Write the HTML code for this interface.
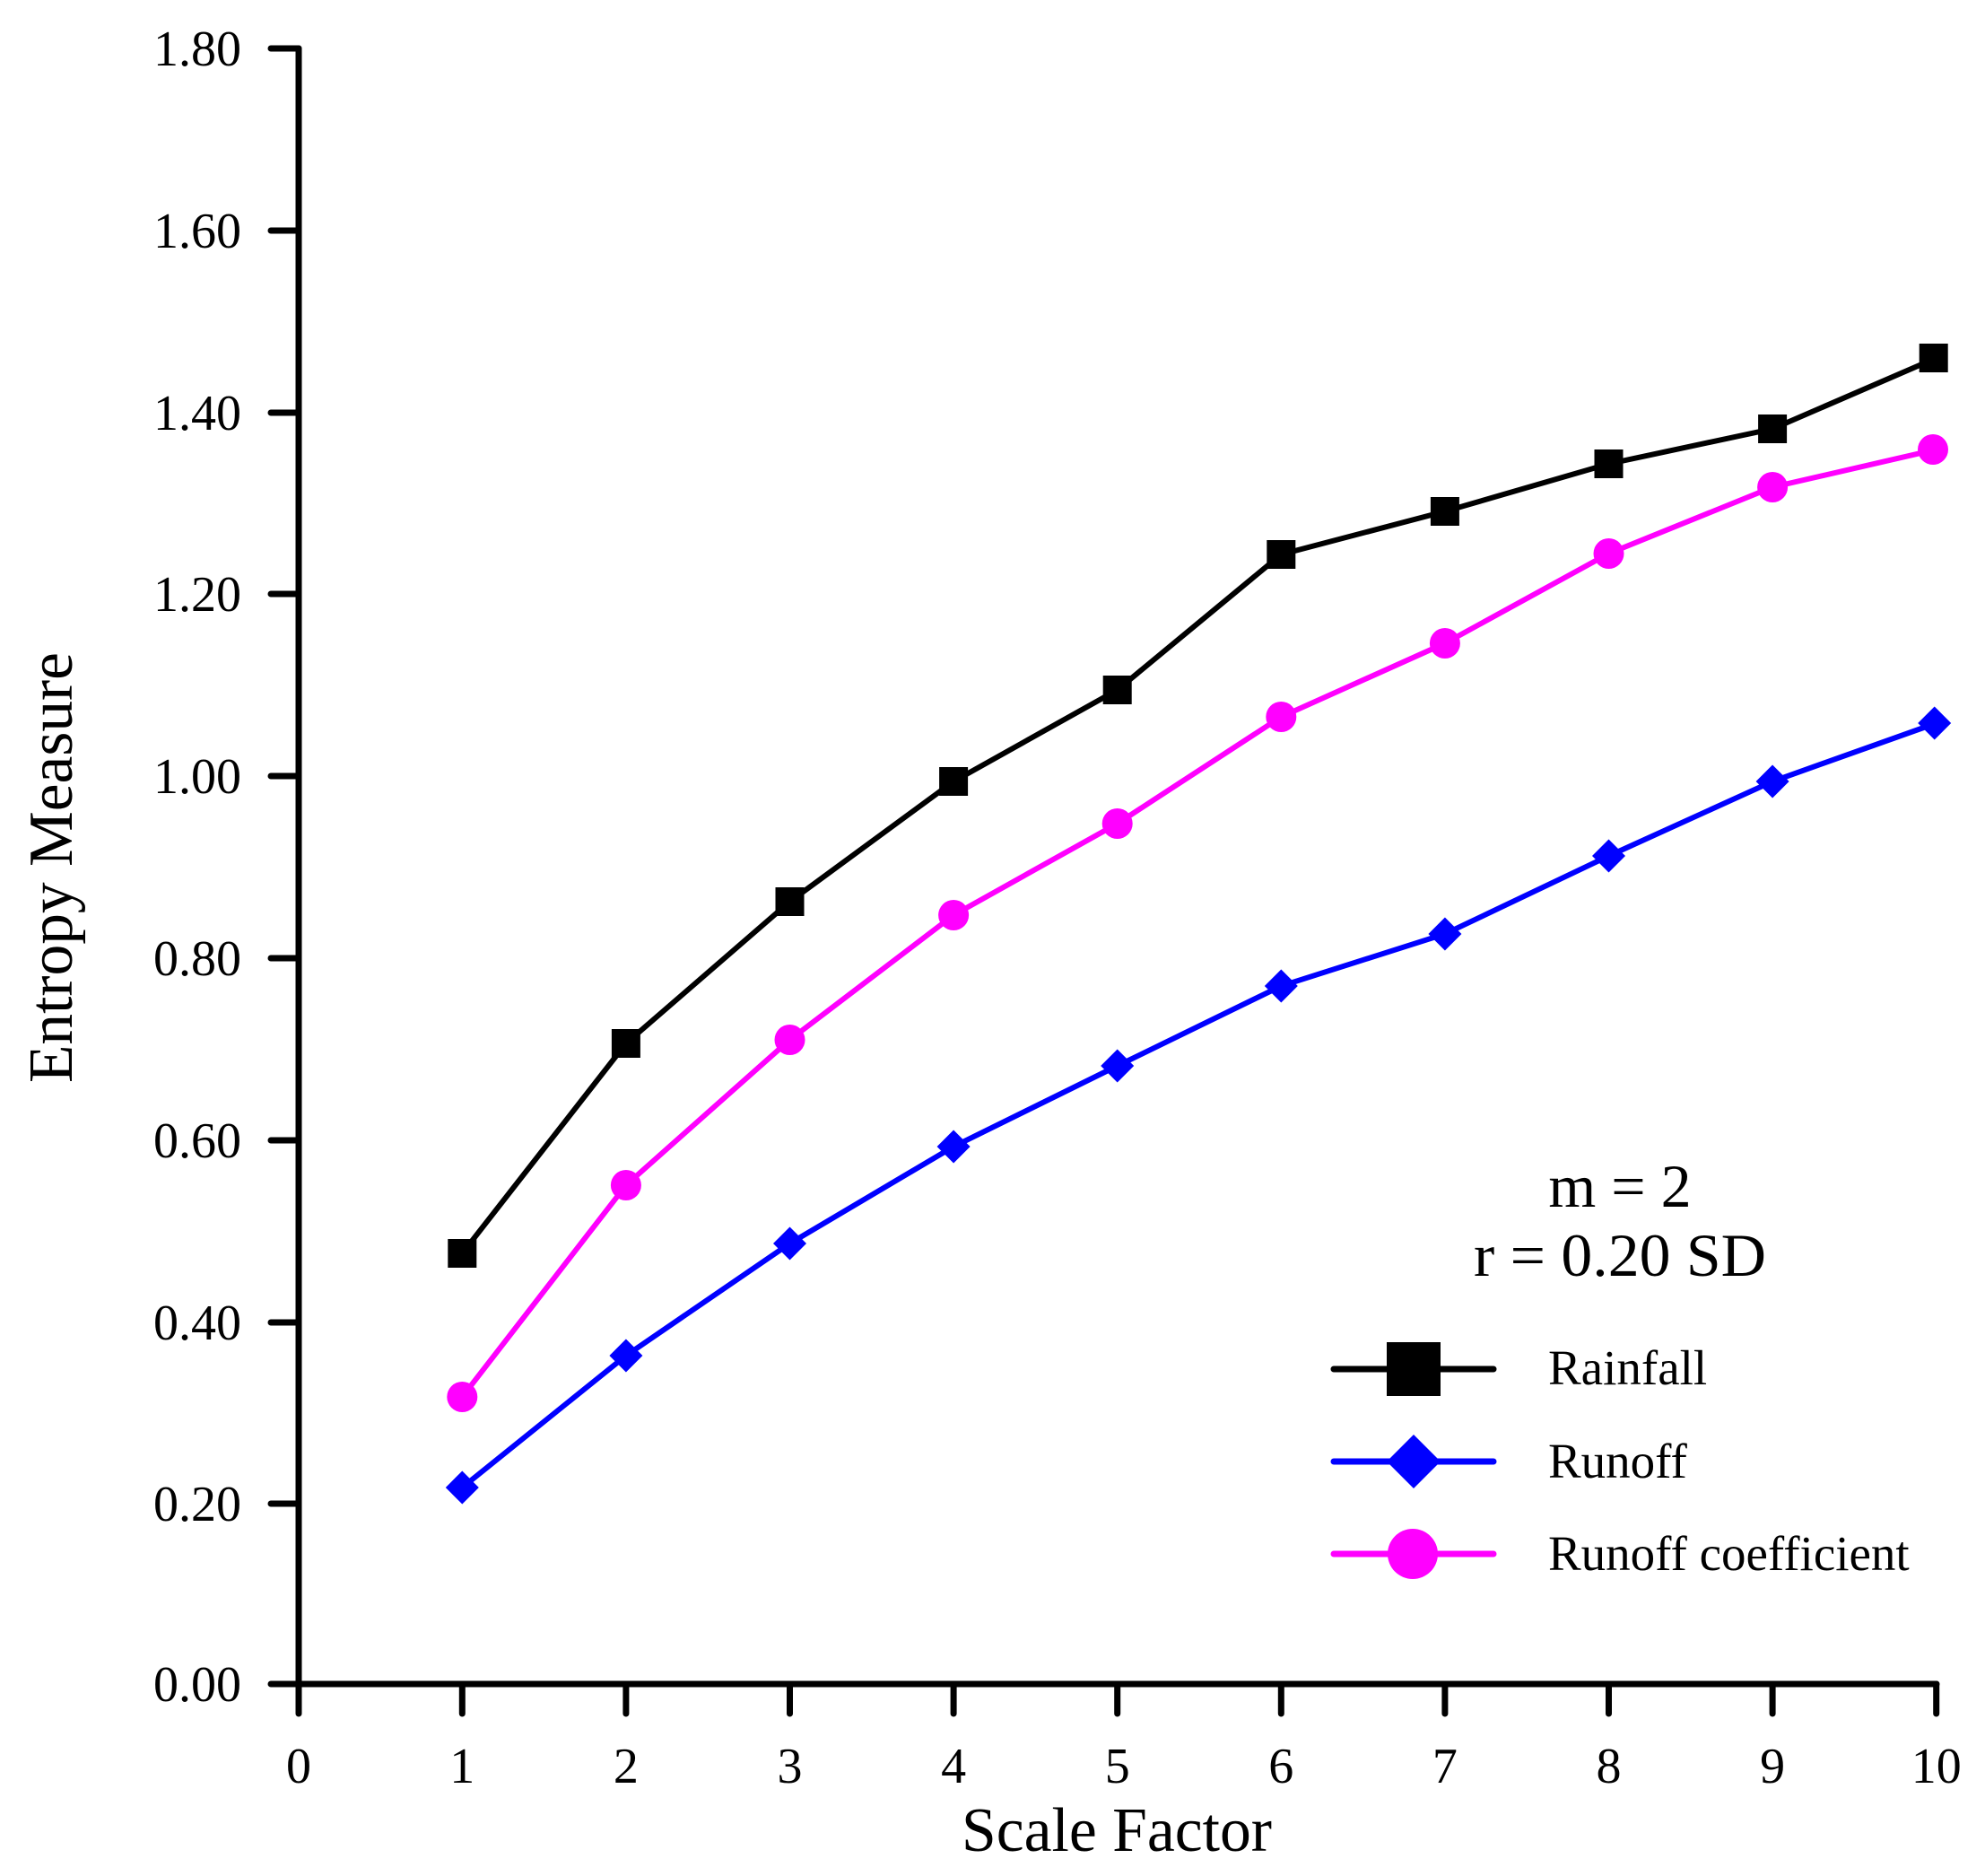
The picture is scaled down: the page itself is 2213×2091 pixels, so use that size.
<!DOCTYPE html>
<html><head><style>html,body{margin:0;padding:0;background:#fff}svg{display:block}</style></head><body>
<svg width="2213" height="2091" viewBox="0 0 2213 2091" xmlns="http://www.w3.org/2000/svg" font-family="Liberation Serif, serif">
<rect width="2213" height="2091" fill="#fff"/>
<g stroke="#000" stroke-width="7" stroke-linecap="round" fill="none">
<line x1="333" y1="54" x2="333" y2="1910"/>
<line x1="302" y1="1877" x2="2159" y2="1877"/>
<line x1="302" y1="54" x2="333" y2="54"/>
<line x1="302" y1="257" x2="333" y2="257"/>
<line x1="302" y1="460" x2="333" y2="460"/>
<line x1="302" y1="662" x2="333" y2="662"/>
<line x1="302" y1="865" x2="333" y2="865"/>
<line x1="302" y1="1068" x2="333" y2="1068"/>
<line x1="302" y1="1271" x2="333" y2="1271"/>
<line x1="302" y1="1474" x2="333" y2="1474"/>
<line x1="302" y1="1676" x2="333" y2="1676"/>
<line x1="515.3" y1="1877" x2="515.3" y2="1910"/>
<line x1="697.9" y1="1877" x2="697.9" y2="1910"/>
<line x1="880.5" y1="1877" x2="880.5" y2="1910"/>
<line x1="1063.1" y1="1877" x2="1063.1" y2="1910"/>
<line x1="1245.7" y1="1877" x2="1245.7" y2="1910"/>
<line x1="1428.3" y1="1877" x2="1428.3" y2="1910"/>
<line x1="1610.9" y1="1877" x2="1610.9" y2="1910"/>
<line x1="1793.5" y1="1877" x2="1793.5" y2="1910"/>
<line x1="1976.1" y1="1877" x2="1976.1" y2="1910"/>
<line x1="2158.7" y1="1877" x2="2158.7" y2="1910"/>
</g>
<g font-size="56" text-anchor="end" fill="#000">
<text x="269" y="73">1.80</text>
<text x="269" y="276">1.60</text>
<text x="269" y="479">1.40</text>
<text x="269" y="681">1.20</text>
<text x="269" y="884">1.00</text>
<text x="269" y="1087">0.80</text>
<text x="269" y="1290">0.60</text>
<text x="269" y="1493">0.40</text>
<text x="269" y="1695">0.20</text>
<text x="269" y="1896">0.00</text>
</g>
<g font-size="56" text-anchor="middle" fill="#000">
<text x="333" y="1987">0</text>
<text x="515.3" y="1987">1</text>
<text x="697.9" y="1987">2</text>
<text x="880.5" y="1987">3</text>
<text x="1063.1" y="1987">4</text>
<text x="1245.7" y="1987">5</text>
<text x="1428.3" y="1987">6</text>
<text x="1610.9" y="1987">7</text>
<text x="1793.5" y="1987">8</text>
<text x="1976.1" y="1987">9</text>
<text x="2158.7" y="1987">10</text>
</g>
<text x="1245" y="2063" font-size="70" text-anchor="middle" textLength="346" lengthAdjust="spacingAndGlyphs">Scale Factor</text>
<text transform="translate(80,967) rotate(-90)" font-size="70" text-anchor="middle" textLength="480" lengthAdjust="spacingAndGlyphs">Entropy Measure</text>
<text x="1806" y="1345" font-size="68" text-anchor="middle">m = 2</text>
<text x="1806" y="1422" font-size="68" text-anchor="middle" textLength="326" lengthAdjust="spacingAndGlyphs">r = 0.20 SD</text>

<polyline fill="none" stroke="#000" stroke-width="6" points="515.3,1397 697.9,1163 880.5,1005 1063.1,871 1245.7,769 1428.3,618 1610.9,570 1793.5,517 1976.1,478 2158.7,399"/>
<polyline fill="none" stroke="#ff00ff" stroke-width="6" points="515.3,1557 697.9,1321 880.5,1159 1063.1,1020 1245.7,918 1428.3,799 1610.9,717 1793.5,617 1976.1,543 2158.7,501"/>
<polyline fill="none" stroke="#0000ff" stroke-width="6" points="515.3,1658 697.9,1511 880.5,1386 1063.1,1278 1245.7,1188 1428.3,1099 1610.9,1041 1793.5,954 1976.1,871 2158.7,806"/>
<g fill="#000">
<rect x="499.3" y="1381" width="32" height="32"/><rect x="681.9" y="1147" width="32" height="32"/><rect x="864.5" y="989" width="32" height="32"/><rect x="1047.1" y="855" width="32" height="32"/><rect x="1229.7" y="753" width="32" height="32"/><rect x="1412.3" y="602" width="32" height="32"/><rect x="1594.9" y="554" width="32" height="32"/><rect x="1777.5" y="501" width="32" height="32"/><rect x="1960.1" y="462" width="32" height="32"/><rect x="2139.7" y="383" width="32" height="32"/>
</g>
<g fill="#ff00ff">
<circle cx="515.3" cy="1557" r="17"/><circle cx="697.9" cy="1321" r="17"/><circle cx="880.5" cy="1159" r="17"/><circle cx="1063.1" cy="1020" r="17"/><circle cx="1245.7" cy="918" r="17"/><circle cx="1428.3" cy="799" r="17"/><circle cx="1610.9" cy="717" r="17"/><circle cx="1793.5" cy="617" r="17"/><circle cx="1976.1" cy="543" r="17"/><circle cx="2155" cy="501" r="17"/>
</g>
<g fill="#0000ff">
<path d="M515.3 1639.5l18.5 18.5l-18.5 18.5l-18.5 -18.5z"/>
<path d="M697.9 1492.5l18.5 18.5l-18.5 18.5l-18.5 -18.5z"/>
<path d="M880.5 1367.5l18.5 18.5l-18.5 18.5l-18.5 -18.5z"/>
<path d="M1063.1 1259.5l18.5 18.5l-18.5 18.5l-18.5 -18.5z"/>
<path d="M1245.7 1169.5l18.5 18.5l-18.5 18.5l-18.5 -18.5z"/>
<path d="M1428.3 1080.5l18.5 18.5l-18.5 18.5l-18.5 -18.5z"/>
<path d="M1610.9 1022.5l18.5 18.5l-18.5 18.5l-18.5 -18.5z"/>
<path d="M1793.5 935.5l18.5 18.5l-18.5 18.5l-18.5 -18.5z"/>
<path d="M1976.1 852.5l18.5 18.5l-18.5 18.5l-18.5 -18.5z"/>
<path d="M2156.7 787.5l18.5 18.5l-18.5 18.5l-18.5 -18.5z"/>
</g>

<g stroke-width="7" stroke-linecap="round">
<line x1="1487" y1="1526" x2="1665" y2="1526" stroke="#000"/>
<line x1="1487" y1="1629" x2="1665" y2="1629" stroke="#0000ff"/>
<line x1="1487" y1="1732" x2="1665" y2="1732" stroke="#ff00ff"/>
</g>
<rect x="1546" y="1496" width="60" height="60" fill="#000"/>
<path d="M1576 1599l30 30l-30 30l-30 -30z" fill="#0000ff"/>
<circle cx="1575" cy="1732" r="28" fill="#ff00ff"/>
<g font-size="55" fill="#000">
<text x="1726" y="1543">Rainfall</text>
<text x="1726" y="1647">Runoff</text>
<text x="1726" y="1750">Runoff coefficient</text>
</g>
</svg>
</body></html>
